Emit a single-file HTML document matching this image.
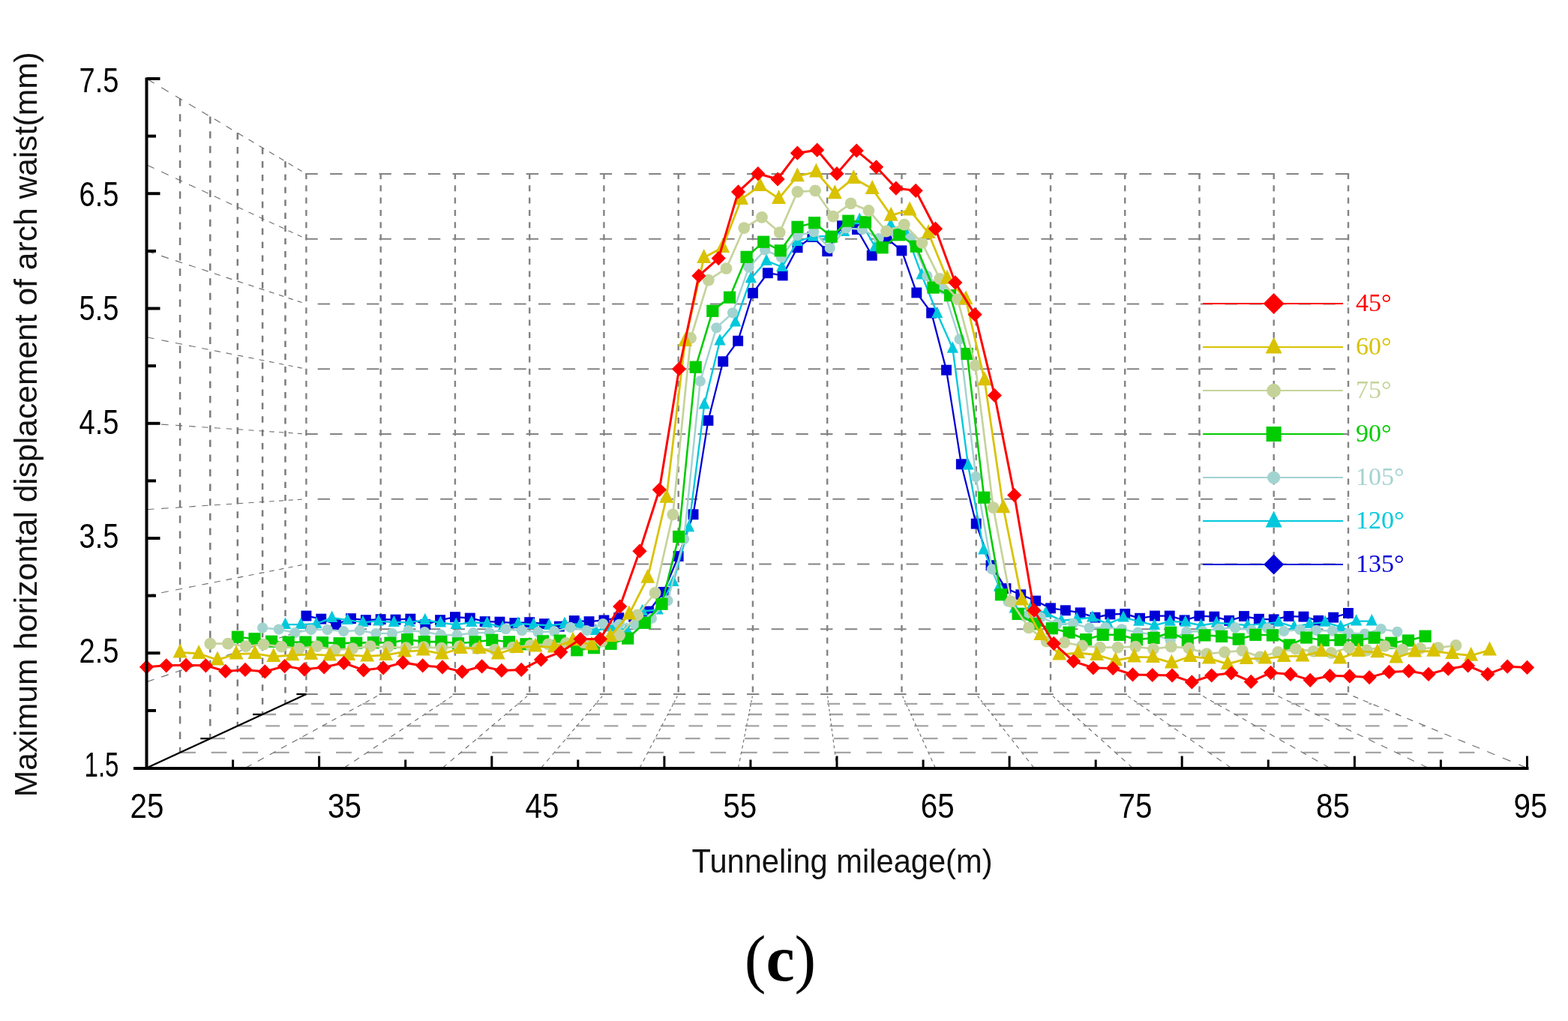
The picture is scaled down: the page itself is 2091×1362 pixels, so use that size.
<!DOCTYPE html>
<html><head><meta charset="utf-8"><style>
html,body{margin:0;padding:0;background:#fff;}
svg{display:block;}
.tk{font-family:"Liberation Sans",sans-serif;font-size:45.5px;fill:#000;}
.ttl{font-family:"Liberation Sans",sans-serif;font-size:45px;fill:#111;}
.lg{font-family:"Liberation Serif",serif;font-size:34px;}
.ttly{font-family:"Liberation Sans",sans-serif;font-size:43px;fill:#111;}
.cap{font-family:"Liberation Serif",serif;font-size:86px;font-weight:bold;fill:#000;}
</style></head><body>
<svg width="2091" height="1362" viewBox="0 0 2091 1362">
<rect width="2091" height="1362" fill="#fff"/>
<g stroke="#838383" stroke-width="2" fill="none"><line x1="408.4" y1="231" x2="408.4" y2="926" stroke-dasharray="8 8.3" stroke-width="2.4"/><line x1="507.7" y1="231" x2="507.7" y2="926" stroke-dasharray="8 8.3" stroke-width="2.4"/><line x1="606.9" y1="231" x2="606.9" y2="926" stroke-dasharray="8 8.3" stroke-width="2.4"/><line x1="706.2" y1="231" x2="706.2" y2="926" stroke-dasharray="8 8.3" stroke-width="2.4"/><line x1="805.4" y1="231" x2="805.4" y2="926" stroke-dasharray="8 8.3" stroke-width="2.4"/><line x1="904.7" y1="231" x2="904.7" y2="926" stroke-dasharray="8 8.3" stroke-width="2.4"/><line x1="1003.9" y1="231" x2="1003.9" y2="926" stroke-dasharray="8 8.3" stroke-width="2.4"/><line x1="1103.2" y1="231" x2="1103.2" y2="926" stroke-dasharray="8 8.3" stroke-width="2.4"/><line x1="1202.5" y1="231" x2="1202.5" y2="926" stroke-dasharray="8 8.3" stroke-width="2.4"/><line x1="1301.7" y1="231" x2="1301.7" y2="926" stroke-dasharray="8 8.3" stroke-width="2.4"/><line x1="1401" y1="231" x2="1401" y2="926" stroke-dasharray="8 8.3" stroke-width="2.4"/><line x1="1500.2" y1="231" x2="1500.2" y2="926" stroke-dasharray="8 8.3" stroke-width="2.4"/><line x1="1599.5" y1="231" x2="1599.5" y2="926" stroke-dasharray="8 8.3" stroke-width="2.4"/><line x1="1698.7" y1="231" x2="1698.7" y2="926" stroke-dasharray="8 8.3" stroke-width="2.4"/><line x1="1798" y1="231" x2="1798" y2="926" stroke-dasharray="8 8.3" stroke-width="2.4"/><line x1="407.4" y1="232" x2="1798" y2="232" stroke-dasharray="16.35 16.35" stroke-dashoffset="0"/><line x1="407.4" y1="318.7" x2="1798" y2="318.7" stroke-dasharray="16.35 16.35" stroke-dashoffset="0"/><line x1="407.4" y1="405.5" x2="1798" y2="405.5" stroke-dasharray="16.35 16.35" stroke-dashoffset="16.4"/><line x1="407.4" y1="492.2" x2="1798" y2="492.2" stroke-dasharray="16.35 16.35" stroke-dashoffset="16.4"/><line x1="407.4" y1="579" x2="1798" y2="579" stroke-dasharray="16.35 16.35" stroke-dashoffset="0"/><line x1="407.4" y1="665.7" x2="1798" y2="665.7" stroke-dasharray="16.35 16.35" stroke-dashoffset="16.4"/><line x1="407.4" y1="752.5" x2="1798" y2="752.5" stroke-dasharray="16.35 16.35" stroke-dashoffset="16.4"/><line x1="407.4" y1="839.2" x2="1798" y2="839.2" stroke-dasharray="16.35 16.35" stroke-dashoffset="0"/><line x1="407.4" y1="926" x2="1798" y2="926" stroke-dasharray="16.35 16.35" stroke-dashoffset="0"/></g>
<g stroke="#a4a4a4" stroke-width="2.3" fill="none"><line x1="240.1" y1="1003.9" x2="1986.5" y2="1003.9" stroke-dasharray="20.8 20.8"/><line x1="280.3" y1="985.2" x2="1941.5" y2="985.2" stroke-dasharray="19.8 19.8"/><line x1="316.8" y1="968.3" x2="1900.6" y2="968.3" stroke-dasharray="18.8 18.8"/><line x1="350.1" y1="953" x2="1863.3" y2="953" stroke-dasharray="18 18"/><line x1="380.5" y1="938.9" x2="1829.3" y2="938.9" stroke-dasharray="17.2 17.2"/></g>
<g stroke="#7c7c7c" stroke-width="2.5" fill="none"><line x1="240.1" y1="131.6" x2="240.1" y2="1003.9" stroke-dasharray="9.9 10.7"/><line x1="280.3" y1="155.6" x2="280.3" y2="985.2" stroke-dasharray="9.4 10.2"/><line x1="316.8" y1="177.3" x2="316.8" y2="968.3" stroke-dasharray="9 9.7"/><line x1="350.1" y1="197.2" x2="350.1" y2="953" stroke-dasharray="8.6 9.3"/><line x1="380.5" y1="215.3" x2="380.5" y2="938.9" stroke-dasharray="8.2 8.9"/></g>
<path d="M195.5 105L205.5 110.9M215.2 116.7L224.7 122.4M234 128L243.1 133.4M252 138.7L260.7 143.9M269.3 149L277.6 154M285.8 158.8L293.8 163.6M301.6 168.3L309.3 172.9M316.8 177.3L324.2 181.7M331.5 186.1L338.6 190.3M345.5 194.4L352.4 198.5M359.1 202.5L365.6 206.4M372.1 210.3L378.4 214.1M384.6 217.8L390.7 221.4M396.7 225L402.6 228.5M195.5 219.9L205.5 224.6M215.2 229.1L224.7 233.5M234 237.8L243.1 242M252 246.2L260.7 250.2M269.3 254.1L277.6 258M285.8 261.8L293.8 265.5M301.6 269.2L309.3 272.7M316.8 276.2L324.2 279.6M331.5 283L338.6 286.3M345.5 289.5L352.4 292.7M359.1 295.8L365.6 298.9M372.1 301.8L378.4 304.8M384.6 307.7L390.7 310.5M396.7 313.3L402.6 316M195.5 334.9L205.5 338.2M215.2 341.4L224.7 344.6M234 347.6L243.1 350.7M252 353.6L260.7 356.5M269.3 359.3L277.6 362.1M285.8 364.8L293.8 367.5M301.6 370.1L309.3 372.6M316.8 375.1L324.2 377.5M331.5 379.9L338.6 382.3M345.5 384.6L352.4 386.9M359.1 389.1L365.6 391.3M372.1 393.4L378.4 395.5M384.6 397.6L390.7 399.6M396.7 401.6L402.6 403.5M195.5 449.8L205.5 451.8M215.2 453.7L224.7 455.6M234 457.5L243.1 459.3M252 461.1L260.7 462.8M269.3 464.5L277.6 466.2M285.8 467.8L293.8 469.4M301.6 470.9L309.3 472.5M316.8 474L324.2 475.4M331.5 476.9L338.6 478.3M345.5 479.7L352.4 481M359.1 482.4L365.6 483.7M372.1 485L378.4 486.2M384.6 487.5L390.7 488.7M396.7 489.9L402.6 491.1M195.5 564.8L205.5 565.4M215.2 566.1L224.7 566.7M234 567.3L243.1 567.9M252 568.5L260.7 569.1M269.3 569.7L277.6 570.2M285.8 570.8L293.8 571.3M301.6 571.8L309.3 572.3M316.8 572.8L324.2 573.3M331.5 573.8L338.6 574.3M345.5 574.8L352.4 575.2M359.1 575.7L365.6 576.1M372.1 576.5L378.4 577M384.6 577.4L390.7 577.8M396.7 578.2L402.6 578.6M195.5 679.7L205.5 679M215.2 678.4L224.7 677.8M234 677.2L243.1 676.6M252 676L260.7 675.4M269.3 674.8L277.6 674.3M285.8 673.8L293.8 673.2M301.6 672.7L309.3 672.2M316.8 671.7L324.2 671.2M331.5 670.8L338.6 670.3M345.5 669.8L352.4 669.4M359.1 669L365.6 668.5M372.1 668.1L378.4 667.7M384.6 667.3L390.7 666.9M396.7 666.5L402.6 666.1M195.5 794.6L205.5 792.7M215.2 790.7L224.7 788.8M234 787L243.1 785.2M252 783.4L260.7 781.7M269.3 780L277.6 778.4M285.8 776.7L293.8 775.2M301.6 773.6L309.3 772.1M316.8 770.6L324.2 769.1M331.5 767.7L338.6 766.3M345.5 764.9L352.4 763.6M359.1 762.2L365.6 760.9M372.1 759.7L378.4 758.4M384.6 757.2L390.7 756M396.7 754.8L402.6 753.6M195.5 909.6L205.5 906.3M215.2 903.1L224.7 899.9M234 896.8L243.1 893.8M252 890.9L260.7 888M269.3 885.2L277.6 882.4M285.8 879.7L293.8 877.1M301.6 874.5L309.3 872M316.8 869.5L324.2 867M331.5 864.6L338.6 862.3M345.5 860L352.4 857.7M359.1 855.5L365.6 853.4M372.1 851.2L378.4 849.1M384.6 847.1L390.7 845.1M396.7 843.1L402.6 841.1" stroke="#6e6e6e" stroke-width="1.15" fill="none"/>
<path d="M327 1024.5L335.5 1019.9M343.7 1015.4L351.8 1011M359.7 1006.7L367.4 1002.5M375 998.3L382.4 994.3M389.6 990.4L396.7 986.5M403.6 982.7L410.4 979M417.1 975.4L423.6 971.8M430 968.3L436.2 964.9M442.4 961.6L448.4 958.3M454.3 955.1L460.1 951.9M465.8 948.8L471.4 945.8M476.8 942.8L482.2 939.9M487.5 937L492.7 934.2M497.8 931.4L502.8 928.6M458.5 1024.5L465.4 1019.9M472.2 1015.4L478.9 1011M485.3 1006.7L491.7 1002.5M497.9 998.3L504 994.3M509.9 990.4L515.7 986.5M521.4 982.7L527 979M532.5 975.4L537.8 971.8M543.1 968.3L548.2 964.9M553.3 961.6L558.2 958.3M563.1 955.1L567.8 951.9M572.5 948.8L577.1 945.8M581.6 942.8L586 939.9M590.3 937L594.6 934.2M598.8 931.4L602.9 928.6M590 1024.5L595.4 1019.9M600.7 1015.4L605.9 1011M611 1006.7L616 1002.5M620.8 998.3L625.6 994.3M630.2 990.4L634.8 986.5M639.3 982.7L643.6 979M647.9 975.4L652.1 971.8M656.2 968.3L660.2 964.9M664.2 961.6L668.1 958.3M671.9 955.1L675.6 951.9M679.2 948.8L682.8 945.8M686.4 942.8L689.8 939.9M693.2 937L696.5 934.2M699.8 931.4L703 928.6M721.5 1024.5L725.4 1019.9M729.3 1015.4L733 1011M736.7 1006.7L740.3 1002.5M743.8 998.3L747.2 994.3M750.6 990.4L753.9 986.5M757.1 982.7L760.2 979M763.3 975.4L766.4 971.8M769.3 968.3L772.2 964.9M775.1 961.6L777.9 958.3M780.6 955.1L783.3 951.9M786 948.8L788.6 945.8M791.1 942.8L793.6 939.9M796.1 937L798.5 934.2M800.8 931.4L803.2 928.6M853 1024.5L855.4 1019.9M857.8 1015.4L860.1 1011M862.4 1006.7L864.6 1002.5M866.7 998.3L868.8 994.3M870.9 990.4L872.9 986.5M874.9 982.7L876.9 979M878.8 975.4L880.6 971.8M882.5 968.3L884.3 964.9M886 961.6L887.7 958.3M889.4 955.1L891.1 951.9M892.7 948.8L894.3 945.8M895.9 942.8L897.4 939.9M898.9 937L900.4 934.2M901.9 931.4L903.3 928.6M984.5 1024.5L985.4 1019.9M986.3 1015.4L987.2 1011M988 1006.7L988.8 1002.5M989.7 998.3L990.5 994.3M991.2 990.4L992 986.5M992.7 982.7L993.5 979M994.2 975.4L994.9 971.8M995.6 968.3L996.3 964.9M996.9 961.6L997.6 958.3M998.2 955.1L998.8 951.9M999.4 948.8L1000 945.8M1000.6 942.8L1001.2 939.9M1001.8 937L1002.3 934.2M1002.9 931.4L1003.4 928.6M1116 1024.5L1115.4 1019.9M1114.8 1015.4L1114.2 1011M1113.7 1006.7L1113.1 1002.5M1112.6 998.3L1112.1 994.3M1111.6 990.4L1111.1 986.5M1110.6 982.7L1110.1 979M1109.6 975.4L1109.2 971.8M1108.7 968.3L1108.3 964.9M1107.8 961.6L1107.4 958.3M1107 955.1L1106.6 951.9M1106.2 948.8L1105.8 945.8M1105.4 942.8L1105 939.9M1104.6 937L1104.3 934.2M1103.9 931.4L1103.5 928.6M1247.5 1024.5L1245.4 1019.9M1243.3 1015.4L1241.3 1011M1239.4 1006.7L1237.4 1002.5M1235.5 998.3L1233.7 994.3M1231.9 990.4L1230.1 986.5M1228.4 982.7L1226.7 979M1225 975.4L1223.4 971.8M1221.8 968.3L1220.3 964.9M1218.7 961.6L1217.2 958.3M1215.8 955.1L1214.3 951.9M1212.9 948.8L1211.5 945.8M1210.1 942.8L1208.8 939.9M1207.5 937L1206.2 934.2M1204.9 931.4L1203.7 928.6M1379 1024.5L1375.4 1019.9M1371.9 1015.4L1368.4 1011M1365 1006.7L1361.7 1002.5M1358.5 998.3L1355.3 994.3M1352.2 990.4L1349.2 986.5M1346.2 982.7L1343.3 979M1340.5 975.4L1337.7 971.8M1335 968.3L1332.3 964.9M1329.6 961.6L1327.1 958.3M1324.5 955.1L1322.1 951.9M1319.6 948.8L1317.2 945.8M1314.9 942.8L1312.6 939.9M1310.3 937L1308.1 934.2M1305.9 931.4L1303.8 928.6M1510.5 1024.5L1505.4 1019.9M1500.4 1015.4L1495.5 1011M1490.7 1006.7L1486 1002.5M1481.4 998.3L1476.9 994.3M1472.6 990.4L1468.3 986.5M1464.1 982.7L1459.9 979M1455.9 975.4L1451.9 971.8M1448.1 968.3L1444.3 964.9M1440.6 961.6L1436.9 958.3M1433.3 955.1L1429.8 951.9M1426.4 948.8L1423 945.8M1419.7 942.8L1416.4 939.9M1413.2 937L1410.1 934.2M1407 931.4L1403.9 928.6M1642 1024.5L1635.4 1019.9M1628.9 1015.4L1622.5 1011M1616.4 1006.7L1610.3 1002.5M1604.4 998.3L1598.6 994.3M1592.9 990.4L1587.3 986.5M1581.9 982.7L1576.6 979M1571.3 975.4L1566.2 971.8M1561.2 968.3L1556.3 964.9M1551.5 961.6L1546.7 958.3M1542.1 955.1L1537.6 951.9M1533.1 948.8L1528.7 945.8M1524.4 942.8L1520.2 939.9M1516.1 937L1512 934.2M1508 931.4L1504.1 928.6M1773.5 1024.5L1765.4 1019.9M1757.4 1015.4L1749.6 1011M1742 1006.7L1734.6 1002.5M1727.3 998.3L1720.2 994.3M1713.2 990.4L1706.4 986.5M1699.7 982.7L1693.2 979M1686.8 975.4L1680.5 971.8M1674.3 968.3L1668.3 964.9M1662.4 961.6L1656.6 958.3M1650.9 955.1L1645.3 951.9M1639.8 948.8L1634.4 945.8M1629.2 942.8L1624 939.9M1618.9 937L1613.9 934.2M1609 931.4L1604.2 928.6M1905 1024.5L1895.4 1019.9M1885.9 1015.4L1876.7 1011M1867.7 1006.7L1858.9 1002.5M1850.2 998.3L1841.8 994.3M1833.5 990.4L1825.5 986.5M1817.5 982.7L1809.8 979M1802.2 975.4L1794.7 971.8M1787.4 968.3L1780.3 964.9M1773.3 961.6L1766.4 958.3M1759.7 955.1L1753 951.9M1746.6 948.8L1740.2 945.8M1733.9 942.8L1727.8 939.9M1721.8 937L1715.8 934.2M1710 931.4L1704.3 928.6M2036.5 1024.5L2025.3 1019.9M2014.4 1015.4L2003.8 1011M1993.4 1006.7L1983.2 1002.5M1973.2 998.3L1963.4 994.3M1953.9 990.4L1944.5 986.5M1935.4 982.7L1926.4 979M1917.6 975.4L1909 971.8M1900.6 968.3L1892.3 964.9M1884.2 961.6L1876.2 958.3M1868.4 955.1L1860.8 951.9M1853.3 948.8L1845.9 945.8M1838.7 942.8L1831.6 939.9M1824.6 937L1817.8 934.2M1811.1 931.4L1804.5 928.6" stroke="#6e6e6e" stroke-width="1.15" fill="none"/>
<polyline points="408.4,821.6 428.3,825.6 448.1,833.1 468,825.1 487.8,827.1 507.7,826.1 527.5,826.6 547.4,825.6 567.2,833.1 587.1,827.1 606.9,823.1 626.8,824.5 646.6,829.2 666.5,829.7 686.3,831.2 706.2,830.2 726,832.2 745.9,835.6 765.7,828 785.6,829.1 805.4,827.4 825.3,824.2 845.1,822.8 865,815.6 884.8,789.8 904.7,742 924.5,686.3 944.4,560.9 964.2,482.2 984.1,454.7 1003.9,391 1023.8,364.2 1043.6,367.4 1063.5,330.3 1083.3,316 1103.2,335.1 1123,301.2 1142.9,306 1162.8,340.8 1182.6,318.1 1202.5,334.3 1222.3,390.4 1242.2,417.6 1262,493.6 1281.9,619.3 1301.7,698.7 1321.6,754.2 1341.4,785 1361.3,793.2 1381.1,801.5 1401,811.4 1420.8,814.2 1440.7,817.4 1460.5,823.7 1480.4,819.5 1500.2,818.9 1520.1,824.7 1539.9,821.6 1559.8,821.6 1579.6,827.3 1599.5,821.6 1619.3,822.6 1639.2,827.9 1659,822.1 1678.9,825.8 1698.7,826.3 1718.6,822.1 1738.4,822.6 1758.3,827.9 1778.1,823.7 1798,818" stroke="#0000d6" stroke-width="2.3" fill="none"/>
<g fill="#0000d6"><rect x="401.5" y="814.6" width="13.9" height="13.9"/><rect x="421.3" y="818.7" width="13.9" height="13.9"/><rect x="441.2" y="826.2" width="13.9" height="13.9"/><rect x="461" y="818.2" width="13.9" height="13.9"/><rect x="480.9" y="820.2" width="13.9" height="13.9"/><rect x="500.7" y="819.2" width="13.9" height="13.9"/><rect x="520.6" y="819.7" width="13.9" height="13.9"/><rect x="540.4" y="818.7" width="13.9" height="13.9"/><rect x="560.3" y="826.2" width="13.9" height="13.9"/><rect x="580.1" y="820.2" width="13.9" height="13.9"/><rect x="600" y="816.2" width="13.9" height="13.9"/><rect x="619.8" y="817.6" width="13.9" height="13.9"/><rect x="639.7" y="822.2" width="13.9" height="13.9"/><rect x="659.5" y="822.7" width="13.9" height="13.9"/><rect x="679.4" y="824.2" width="13.9" height="13.9"/><rect x="699.2" y="823.2" width="13.9" height="13.9"/><rect x="719.1" y="825.2" width="13.9" height="13.9"/><rect x="738.9" y="828.7" width="13.9" height="13.9"/><rect x="758.8" y="821.1" width="13.9" height="13.9"/><rect x="778.6" y="822.2" width="13.9" height="13.9"/><rect x="798.5" y="820.5" width="13.9" height="13.9"/><rect x="818.3" y="817.2" width="13.9" height="13.9"/><rect x="838.2" y="815.9" width="13.9" height="13.9"/><rect x="858" y="808.6" width="13.9" height="13.9"/><rect x="877.9" y="782.9" width="13.9" height="13.9"/><rect x="897.7" y="735.1" width="13.9" height="13.9"/><rect x="917.6" y="679.3" width="13.9" height="13.9"/><rect x="937.5" y="554" width="13.9" height="13.9"/><rect x="957.3" y="475.3" width="13.9" height="13.9"/><rect x="977.2" y="447.8" width="13.9" height="13.9"/><rect x="997" y="384" width="13.9" height="13.9"/><rect x="1016.9" y="357.3" width="13.9" height="13.9"/><rect x="1036.7" y="360.5" width="13.9" height="13.9"/><rect x="1056.6" y="323.3" width="13.9" height="13.9"/><rect x="1076.4" y="309.1" width="13.9" height="13.9"/><rect x="1096.3" y="328.2" width="13.9" height="13.9"/><rect x="1116.1" y="294.2" width="13.9" height="13.9"/><rect x="1136" y="299.1" width="13.9" height="13.9"/><rect x="1155.8" y="333.8" width="13.9" height="13.9"/><rect x="1175.7" y="311.2" width="13.9" height="13.9"/><rect x="1195.5" y="327.4" width="13.9" height="13.9"/><rect x="1215.4" y="383.5" width="13.9" height="13.9"/><rect x="1235.2" y="410.6" width="13.9" height="13.9"/><rect x="1255.1" y="486.7" width="13.9" height="13.9"/><rect x="1274.9" y="612.3" width="13.9" height="13.9"/><rect x="1294.8" y="691.7" width="13.9" height="13.9"/><rect x="1314.6" y="747.2" width="13.9" height="13.9"/><rect x="1334.5" y="778.1" width="13.9" height="13.9"/><rect x="1354.3" y="786.3" width="13.9" height="13.9"/><rect x="1374.2" y="794.6" width="13.9" height="13.9"/><rect x="1394" y="804.4" width="13.9" height="13.9"/><rect x="1413.9" y="807.3" width="13.9" height="13.9"/><rect x="1433.7" y="810.4" width="13.9" height="13.9"/><rect x="1453.6" y="816.7" width="13.9" height="13.9"/><rect x="1473.4" y="812.5" width="13.9" height="13.9"/><rect x="1493.3" y="812" width="13.9" height="13.9"/><rect x="1513.1" y="817.8" width="13.9" height="13.9"/><rect x="1533" y="814.6" width="13.9" height="13.9"/><rect x="1552.8" y="814.6" width="13.9" height="13.9"/><rect x="1572.7" y="820.4" width="13.9" height="13.9"/><rect x="1592.5" y="814.6" width="13.9" height="13.9"/><rect x="1612.4" y="815.7" width="13.9" height="13.9"/><rect x="1632.2" y="820.9" width="13.9" height="13.9"/><rect x="1652.1" y="815.1" width="13.9" height="13.9"/><rect x="1671.9" y="818.8" width="13.9" height="13.9"/><rect x="1691.8" y="819.4" width="13.9" height="13.9"/><rect x="1711.6" y="815.1" width="13.9" height="13.9"/><rect x="1731.5" y="815.7" width="13.9" height="13.9"/><rect x="1751.3" y="820.9" width="13.9" height="13.9"/><rect x="1771.2" y="816.7" width="13.9" height="13.9"/><rect x="1791" y="811" width="13.9" height="13.9"/></g>
<polyline points="380.5,833.1 401.2,833.1 421.9,832.1 442.6,824.1 463.3,827.1 484,830.1 504.7,828.6 525.4,830.1 546.1,830.1 566.8,827.1 587.5,830.7 608.2,833.2 628.9,830.2 649.6,831.2 670.3,837.2 690.9,831.7 711.6,833.2 732.3,834.2 753,832.1 773.7,832.9 794.4,841.2 815.1,836.6 835.8,839.7 856.5,815.2 877.2,813.7 897.9,776.2 918.6,703.3 939.3,539.6 960,454.7 980.7,429.8 1001.4,371.5 1022.1,348 1042.8,356.1 1063.5,322.2 1084.2,315.7 1104.9,314.9 1125.6,309.3 1146.3,293.1 1167,329.3 1187.7,300.2 1208.4,310.9 1229.1,366.8 1249.8,418.2 1270.4,464.8 1291.1,620.8 1311.8,733.6 1332.5,782.9 1353.2,811.7 1373.9,812.2 1394.6,817.6 1415.3,827.9 1436,825.8 1456.7,823.7 1477.4,832.1 1498.1,823.7 1518.8,828.9 1539.5,834.2 1560.2,828.9 1580.9,830 1601.6,834.2 1622.3,831 1643,832.1 1663.7,834.2 1684.4,832.1 1705.1,830 1725.8,836.3 1746.5,832.1 1767.2,830 1787.9,836.3 1808.6,828.6 1829.3,828.6" stroke="#00c8dc" stroke-width="2.4" fill="none"/>
<g fill="#00c8dc"><path d="M380.5 823.6l7.6 15.3h-15.3z"/><path d="M401.2 823.7l7.6 15.3h-15.3z"/><path d="M421.9 822.7l7.6 15.3h-15.3z"/><path d="M442.6 814.6l7.6 15.3h-15.3z"/><path d="M463.3 817.7l7.6 15.3h-15.3z"/><path d="M484 820.7l7.6 15.3h-15.3z"/><path d="M504.7 819.2l7.6 15.3h-15.3z"/><path d="M525.4 820.7l7.6 15.3h-15.3z"/><path d="M546.1 820.7l7.6 15.3h-15.3z"/><path d="M566.8 817.7l7.6 15.3h-15.3z"/><path d="M587.5 821.2l7.6 15.3h-15.3z"/><path d="M608.2 823.7l7.6 15.3h-15.3z"/><path d="M628.9 820.7l7.6 15.3h-15.3z"/><path d="M649.6 821.7l7.6 15.3h-15.3z"/><path d="M670.3 827.7l7.6 15.3h-15.3z"/><path d="M690.9 822.2l7.6 15.3h-15.3z"/><path d="M711.6 823.7l7.6 15.3h-15.3z"/><path d="M732.3 824.7l7.6 15.3h-15.3z"/><path d="M753 822.6l7.6 15.3h-15.3z"/><path d="M773.7 823.4l7.6 15.3h-15.3z"/><path d="M794.4 831.7l7.6 15.3h-15.3z"/><path d="M815.1 827.2l7.6 15.3h-15.3z"/><path d="M835.8 830.2l7.6 15.3h-15.3z"/><path d="M856.5 805.7l7.6 15.3h-15.3z"/><path d="M877.2 804.2l7.6 15.3h-15.3z"/><path d="M897.9 766.7l7.6 15.3h-15.3z"/><path d="M918.6 693.9l7.6 15.3h-15.3z"/><path d="M939.3 530.1l7.6 15.3h-15.3z"/><path d="M960 445.3l7.6 15.3h-15.3z"/><path d="M980.7 420.3l7.6 15.3h-15.3z"/><path d="M1001.4 362l7.6 15.3h-15.3z"/><path d="M1022.1 338.6l7.6 15.3h-15.3z"/><path d="M1042.8 346.7l7.6 15.3h-15.3z"/><path d="M1063.5 312.7l7.6 15.3h-15.3z"/><path d="M1084.2 306.3l7.6 15.3h-15.3z"/><path d="M1104.9 305.4l7.6 15.3h-15.3z"/><path d="M1125.6 299.8l7.6 15.3h-15.3z"/><path d="M1146.3 283.6l7.6 15.3h-15.3z"/><path d="M1167 319.9l7.6 15.3h-15.3z"/><path d="M1187.7 290.7l7.6 15.3h-15.3z"/><path d="M1208.4 301.4l7.6 15.3h-15.3z"/><path d="M1229.1 357.3l7.6 15.3h-15.3z"/><path d="M1249.8 408.8l7.6 15.3h-15.3z"/><path d="M1270.4 455.4l7.6 15.3h-15.3z"/><path d="M1291.1 611.3l7.6 15.3h-15.3z"/><path d="M1311.8 724.1l7.6 15.3h-15.3z"/><path d="M1332.5 773.5l7.6 15.3h-15.3z"/><path d="M1353.2 802.3l7.6 15.3h-15.3z"/><path d="M1373.9 802.8l7.6 15.3h-15.3z"/><path d="M1394.6 808.2l7.6 15.3h-15.3z"/><path d="M1415.3 818.4l7.6 15.3h-15.3z"/><path d="M1436 816.3l7.6 15.3h-15.3z"/><path d="M1456.7 814.2l7.6 15.3h-15.3z"/><path d="M1477.4 822.6l7.6 15.3h-15.3z"/><path d="M1498.1 814.2l7.6 15.3h-15.3z"/><path d="M1518.8 819.5l7.6 15.3h-15.3z"/><path d="M1539.5 824.7l7.6 15.3h-15.3z"/><path d="M1560.2 819.5l7.6 15.3h-15.3z"/><path d="M1580.9 820.5l7.6 15.3h-15.3z"/><path d="M1601.6 824.7l7.6 15.3h-15.3z"/><path d="M1622.3 821.6l7.6 15.3h-15.3z"/><path d="M1643 822.6l7.6 15.3h-15.3z"/><path d="M1663.7 824.7l7.6 15.3h-15.3z"/><path d="M1684.4 822.6l7.6 15.3h-15.3z"/><path d="M1705.1 820.5l7.6 15.3h-15.3z"/><path d="M1725.8 826.8l7.6 15.3h-15.3z"/><path d="M1746.5 822.6l7.6 15.3h-15.3z"/><path d="M1767.2 820.5l7.6 15.3h-15.3z"/><path d="M1787.9 826.8l7.6 15.3h-15.3z"/><path d="M1808.6 819.2l7.6 15.3h-15.3z"/><path d="M1829.3 819.1l7.6 15.3h-15.3z"/></g>
<polyline points="350.1,837.6 371.7,839.6 393.3,844.1 414.9,840.1 436.6,840.1 458.2,842.1 479.8,841.1 501.4,845.1 523,845.1 544.6,841.1 566.3,843.1 587.9,846.7 609.5,847.2 631.1,844.2 652.7,844 674.4,839.2 696,841.2 717.6,843.2 739.2,842.2 760.8,836.9 782.4,841 804.1,832 825.7,832.8 847.3,833.3 868.9,824.9 890.5,801.2 912.1,719.3 933.8,508.4 955.4,437.3 977,417.3 998.6,356.8 1020.2,333.5 1041.9,343.2 1063.5,314.1 1085.1,309.3 1106.7,331.1 1128.3,304.4 1149.9,306 1171.6,318 1193.2,310 1214.8,317.3 1236.4,368.1 1258,385.7 1279.6,452.5 1301.3,636 1322.9,759.3 1344.5,802.5 1366.1,822 1387.7,823.5 1409.4,832.3 1431,831.8 1452.6,837.6 1474.2,837 1495.8,839.3 1517.4,843.7 1539.1,846.5 1560.7,854.2 1582.3,842.7 1603.9,842.1 1625.5,838.8 1647.1,837.2 1668.8,840.6 1690.4,838 1712,841.9 1733.6,839.9 1755.2,840.8 1776.9,841.7 1798.5,844.6 1820.1,845.5 1841.7,839 1863.3,842.8" stroke="#a3d3d0" stroke-width="2.5" fill="none"/>
<g fill="#a3d3d0"><circle cx="350.1" cy="837.6" r="7.1"/><circle cx="371.7" cy="839.6" r="7.1"/><circle cx="393.3" cy="844.1" r="7.1"/><circle cx="414.9" cy="840.1" r="7.1"/><circle cx="436.6" cy="840.1" r="7.1"/><circle cx="458.2" cy="842.1" r="7.1"/><circle cx="479.8" cy="841.1" r="7.1"/><circle cx="501.4" cy="845.1" r="7.1"/><circle cx="523" cy="845.1" r="7.1"/><circle cx="544.6" cy="841.1" r="7.1"/><circle cx="566.3" cy="843.1" r="7.1"/><circle cx="587.9" cy="846.7" r="7.1"/><circle cx="609.5" cy="847.2" r="7.1"/><circle cx="631.1" cy="844.2" r="7.1"/><circle cx="652.7" cy="844" r="7.1"/><circle cx="674.4" cy="839.2" r="7.1"/><circle cx="696" cy="841.2" r="7.1"/><circle cx="717.6" cy="843.2" r="7.1"/><circle cx="739.2" cy="842.2" r="7.1"/><circle cx="760.8" cy="836.9" r="7.1"/><circle cx="782.4" cy="841" r="7.1"/><circle cx="804.1" cy="832" r="7.1"/><circle cx="825.7" cy="832.8" r="7.1"/><circle cx="847.3" cy="833.3" r="7.1"/><circle cx="868.9" cy="824.9" r="7.1"/><circle cx="890.5" cy="801.2" r="7.1"/><circle cx="912.1" cy="719.3" r="7.1"/><circle cx="933.8" cy="508.4" r="7.1"/><circle cx="955.4" cy="437.3" r="7.1"/><circle cx="977" cy="417.3" r="7.1"/><circle cx="998.6" cy="356.8" r="7.1"/><circle cx="1020.2" cy="333.5" r="7.1"/><circle cx="1041.9" cy="343.2" r="7.1"/><circle cx="1063.5" cy="314.1" r="7.1"/><circle cx="1085.1" cy="309.3" r="7.1"/><circle cx="1106.7" cy="331.1" r="7.1"/><circle cx="1128.3" cy="304.4" r="7.1"/><circle cx="1149.9" cy="306" r="7.1"/><circle cx="1171.6" cy="318" r="7.1"/><circle cx="1193.2" cy="310" r="7.1"/><circle cx="1214.8" cy="317.3" r="7.1"/><circle cx="1236.4" cy="368.1" r="7.1"/><circle cx="1258" cy="385.7" r="7.1"/><circle cx="1279.6" cy="452.5" r="7.1"/><circle cx="1301.3" cy="636" r="7.1"/><circle cx="1322.9" cy="759.3" r="7.1"/><circle cx="1344.5" cy="802.5" r="7.1"/><circle cx="1366.1" cy="822" r="7.1"/><circle cx="1387.7" cy="823.5" r="7.1"/><circle cx="1409.4" cy="832.3" r="7.1"/><circle cx="1431" cy="831.8" r="7.1"/><circle cx="1452.6" cy="837.6" r="7.1"/><circle cx="1474.2" cy="837" r="7.1"/><circle cx="1495.8" cy="839.3" r="7.1"/><circle cx="1517.4" cy="843.7" r="7.1"/><circle cx="1539.1" cy="846.5" r="7.1"/><circle cx="1560.7" cy="854.2" r="7.1"/><circle cx="1582.3" cy="842.7" r="7.1"/><circle cx="1603.9" cy="842.1" r="7.1"/><circle cx="1625.5" cy="838.8" r="7.1"/><circle cx="1647.1" cy="837.2" r="7.1"/><circle cx="1668.8" cy="840.6" r="7.1"/><circle cx="1690.4" cy="838" r="7.1"/><circle cx="1712" cy="841.9" r="7.1"/><circle cx="1733.6" cy="839.9" r="7.1"/><circle cx="1755.2" cy="840.8" r="7.1"/><circle cx="1776.9" cy="841.7" r="7.1"/><circle cx="1798.5" cy="844.6" r="7.1"/><circle cx="1820.1" cy="845.5" r="7.1"/><circle cx="1841.7" cy="839" r="7.1"/><circle cx="1863.3" cy="842.8" r="7.1"/></g>
<polyline points="316.8,849.7 339.5,852.2 362.1,855.7 384.7,856.7 407.3,856.6 430,857.1 452.6,858.1 475.2,857.6 497.8,857.1 520.5,857.6 543.1,853.1 565.7,856.1 588.3,856 611,858.3 633.6,856.3 656.2,853.8 678.8,856.3 701.5,859.3 724.1,855.3 746.7,854.6 769.3,867.3 792,864.2 814.6,858.8 837.2,851.6 859.8,830.8 882.5,805.7 905.1,715.9 927.7,489.7 950.3,414.8 973,396.7 995.6,342.8 1018.2,322.7 1040.8,334.3 1063.5,302.8 1086.1,297.1 1108.7,315.7 1131.3,294.7 1154,296.3 1176.6,330.3 1199.2,313.3 1221.8,328.7 1244.5,383.6 1267.1,394.1 1289.7,472 1312.3,663.7 1335,793.2 1357.6,818.9 1380.2,832.2 1402.8,838.2 1425.4,843.7 1448.1,853.1 1470.7,846.8 1493.3,846.8 1515.9,853.1 1538.6,851 1561.2,843.7 1583.8,854.2 1606.4,847.3 1629.1,848.9 1651.7,852.6 1674.3,846.8 1696.9,847.3 1719.6,860.5 1742.2,850.5 1764.8,854.2 1787.4,853.7 1810.1,854.1 1832.7,850.7 1855.3,857.6 1877.9,854.5 1900.6,848.7" stroke="#00cc00" stroke-width="2.6" fill="none"/>
<g fill="#00cc00"><rect x="308.8" y="841.6" width="16.2" height="16.2"/><rect x="331.4" y="844.1" width="16.2" height="16.2"/><rect x="354" y="847.6" width="16.2" height="16.2"/><rect x="376.6" y="848.6" width="16.2" height="16.2"/><rect x="399.3" y="848.5" width="16.2" height="16.2"/><rect x="421.9" y="849.1" width="16.2" height="16.2"/><rect x="444.5" y="850.1" width="16.2" height="16.2"/><rect x="467.1" y="849.6" width="16.2" height="16.2"/><rect x="489.8" y="849.1" width="16.2" height="16.2"/><rect x="512.4" y="849.6" width="16.2" height="16.2"/><rect x="535" y="845" width="16.2" height="16.2"/><rect x="557.6" y="848" width="16.2" height="16.2"/><rect x="580.3" y="847.9" width="16.2" height="16.2"/><rect x="602.9" y="850.2" width="16.2" height="16.2"/><rect x="625.5" y="848.2" width="16.2" height="16.2"/><rect x="648.1" y="845.7" width="16.2" height="16.2"/><rect x="670.8" y="848.2" width="16.2" height="16.2"/><rect x="693.4" y="851.2" width="16.2" height="16.2"/><rect x="716" y="847.2" width="16.2" height="16.2"/><rect x="738.6" y="846.5" width="16.2" height="16.2"/><rect x="761.2" y="859.2" width="16.2" height="16.2"/><rect x="783.9" y="856.1" width="16.2" height="16.2"/><rect x="806.5" y="850.7" width="16.2" height="16.2"/><rect x="829.1" y="843.5" width="16.2" height="16.2"/><rect x="851.7" y="822.7" width="16.2" height="16.2"/><rect x="874.4" y="797.6" width="16.2" height="16.2"/><rect x="897" y="707.8" width="16.2" height="16.2"/><rect x="919.6" y="481.6" width="16.2" height="16.2"/><rect x="942.2" y="406.7" width="16.2" height="16.2"/><rect x="964.9" y="388.6" width="16.2" height="16.2"/><rect x="987.5" y="334.7" width="16.2" height="16.2"/><rect x="1010.1" y="314.6" width="16.2" height="16.2"/><rect x="1032.7" y="326.2" width="16.2" height="16.2"/><rect x="1055.4" y="294.7" width="16.2" height="16.2"/><rect x="1078" y="289.1" width="16.2" height="16.2"/><rect x="1100.6" y="307.6" width="16.2" height="16.2"/><rect x="1123.2" y="286.6" width="16.2" height="16.2"/><rect x="1145.9" y="288.2" width="16.2" height="16.2"/><rect x="1168.5" y="322.2" width="16.2" height="16.2"/><rect x="1191.1" y="305.2" width="16.2" height="16.2"/><rect x="1213.7" y="320.6" width="16.2" height="16.2"/><rect x="1236.4" y="375.5" width="16.2" height="16.2"/><rect x="1259" y="386" width="16.2" height="16.2"/><rect x="1281.6" y="463.9" width="16.2" height="16.2"/><rect x="1304.2" y="655.6" width="16.2" height="16.2"/><rect x="1326.9" y="785.1" width="16.2" height="16.2"/><rect x="1349.5" y="810.8" width="16.2" height="16.2"/><rect x="1372.1" y="824.1" width="16.2" height="16.2"/><rect x="1394.7" y="830.1" width="16.2" height="16.2"/><rect x="1417.4" y="835.6" width="16.2" height="16.2"/><rect x="1440" y="845" width="16.2" height="16.2"/><rect x="1462.6" y="838.7" width="16.2" height="16.2"/><rect x="1485.2" y="838.7" width="16.2" height="16.2"/><rect x="1507.9" y="845" width="16.2" height="16.2"/><rect x="1530.5" y="842.9" width="16.2" height="16.2"/><rect x="1553.1" y="835.6" width="16.2" height="16.2"/><rect x="1575.7" y="846.1" width="16.2" height="16.2"/><rect x="1598.4" y="839.3" width="16.2" height="16.2"/><rect x="1621" y="840.8" width="16.2" height="16.2"/><rect x="1643.6" y="844.5" width="16.2" height="16.2"/><rect x="1666.2" y="838.7" width="16.2" height="16.2"/><rect x="1688.9" y="839.3" width="16.2" height="16.2"/><rect x="1711.5" y="852.4" width="16.2" height="16.2"/><rect x="1734.1" y="842.4" width="16.2" height="16.2"/><rect x="1756.7" y="846.1" width="16.2" height="16.2"/><rect x="1779.4" y="845.6" width="16.2" height="16.2"/><rect x="1802" y="846" width="16.2" height="16.2"/><rect x="1824.6" y="842.6" width="16.2" height="16.2"/><rect x="1847.2" y="849.6" width="16.2" height="16.2"/><rect x="1869.9" y="846.4" width="16.2" height="16.2"/><rect x="1892.5" y="840.6" width="16.2" height="16.2"/></g>
<polyline points="280.3,858.7 304.1,858.7 327.8,862.2 351.5,859.7 375.3,862.7 399,865.2 422.7,862.2 446.5,867.2 470.2,865.2 493.9,862.2 517.6,863.2 541.4,864.2 565.1,863.2 588.8,864.7 612.6,862.3 636.3,865.1 660,866.6 683.8,863.7 707.5,860.8 731.2,859.3 754.9,858 778.7,857.3 802.4,855.7 826.1,847.3 849.9,820.5 873.6,790.9 897.3,686.3 921.1,451 944.8,373.6 968.5,358.2 992.2,304.1 1016,289.9 1039.7,310.1 1063.4,255.9 1087.2,254.3 1110.9,288.7 1134.6,271.3 1158.4,281 1182.1,308.5 1205.8,299.6 1229.5,323.8 1253.3,371.9 1277,399.1 1300.7,487.4 1324.5,677.1 1348.2,802.5 1371.9,837.4 1395.7,855.6 1419.4,857.1 1443.1,861.5 1466.8,863.6 1490.6,863.6 1514.3,862.6 1538,865.7 1561.8,862.6 1585.5,864.7 1609.2,872.1 1633,870 1656.7,867.9 1680.4,876.3 1704.2,870 1727.9,865.7 1751.6,868.9 1775.3,871 1799.1,863.9 1822.8,867.5 1846.5,861.8 1870.3,866.7 1894,865 1917.7,864.2 1941.5,861" stroke="#c5d39a" stroke-width="2.7" fill="none"/>
<g fill="#c5d39a"><circle cx="280.3" cy="858.7" r="7.9"/><circle cx="304.1" cy="858.7" r="7.9"/><circle cx="327.8" cy="862.2" r="7.9"/><circle cx="351.5" cy="859.7" r="7.9"/><circle cx="375.3" cy="862.7" r="7.9"/><circle cx="399" cy="865.2" r="7.9"/><circle cx="422.7" cy="862.2" r="7.9"/><circle cx="446.5" cy="867.2" r="7.9"/><circle cx="470.2" cy="865.2" r="7.9"/><circle cx="493.9" cy="862.2" r="7.9"/><circle cx="517.6" cy="863.2" r="7.9"/><circle cx="541.4" cy="864.2" r="7.9"/><circle cx="565.1" cy="863.2" r="7.9"/><circle cx="588.8" cy="864.7" r="7.9"/><circle cx="612.6" cy="862.3" r="7.9"/><circle cx="636.3" cy="865.1" r="7.9"/><circle cx="660" cy="866.6" r="7.9"/><circle cx="683.8" cy="863.7" r="7.9"/><circle cx="707.5" cy="860.8" r="7.9"/><circle cx="731.2" cy="859.3" r="7.9"/><circle cx="754.9" cy="858" r="7.9"/><circle cx="778.7" cy="857.3" r="7.9"/><circle cx="802.4" cy="855.7" r="7.9"/><circle cx="826.1" cy="847.3" r="7.9"/><circle cx="849.9" cy="820.5" r="7.9"/><circle cx="873.6" cy="790.9" r="7.9"/><circle cx="897.3" cy="686.3" r="7.9"/><circle cx="921.1" cy="451" r="7.9"/><circle cx="944.8" cy="373.6" r="7.9"/><circle cx="968.5" cy="358.2" r="7.9"/><circle cx="992.2" cy="304.1" r="7.9"/><circle cx="1016" cy="289.9" r="7.9"/><circle cx="1039.7" cy="310.1" r="7.9"/><circle cx="1063.4" cy="255.9" r="7.9"/><circle cx="1087.2" cy="254.3" r="7.9"/><circle cx="1110.9" cy="288.7" r="7.9"/><circle cx="1134.6" cy="271.3" r="7.9"/><circle cx="1158.4" cy="281" r="7.9"/><circle cx="1182.1" cy="308.5" r="7.9"/><circle cx="1205.8" cy="299.6" r="7.9"/><circle cx="1229.5" cy="323.8" r="7.9"/><circle cx="1253.3" cy="371.9" r="7.9"/><circle cx="1277" cy="399.1" r="7.9"/><circle cx="1300.7" cy="487.4" r="7.9"/><circle cx="1324.5" cy="677.1" r="7.9"/><circle cx="1348.2" cy="802.5" r="7.9"/><circle cx="1371.9" cy="837.4" r="7.9"/><circle cx="1395.7" cy="855.6" r="7.9"/><circle cx="1419.4" cy="857.1" r="7.9"/><circle cx="1443.1" cy="861.5" r="7.9"/><circle cx="1466.8" cy="863.6" r="7.9"/><circle cx="1490.6" cy="863.6" r="7.9"/><circle cx="1514.3" cy="862.6" r="7.9"/><circle cx="1538" cy="865.7" r="7.9"/><circle cx="1561.8" cy="862.6" r="7.9"/><circle cx="1585.5" cy="864.7" r="7.9"/><circle cx="1609.2" cy="872.1" r="7.9"/><circle cx="1633" cy="870" r="7.9"/><circle cx="1656.7" cy="867.9" r="7.9"/><circle cx="1680.4" cy="876.3" r="7.9"/><circle cx="1704.2" cy="870" r="7.9"/><circle cx="1727.9" cy="865.7" r="7.9"/><circle cx="1751.6" cy="868.9" r="7.9"/><circle cx="1775.3" cy="871" r="7.9"/><circle cx="1799.1" cy="863.9" r="7.9"/><circle cx="1822.8" cy="867.5" r="7.9"/><circle cx="1846.5" cy="861.8" r="7.9"/><circle cx="1870.3" cy="866.7" r="7.9"/><circle cx="1894" cy="865" r="7.9"/><circle cx="1917.7" cy="864.2" r="7.9"/><circle cx="1941.5" cy="861" r="7.9"/></g>
<polyline points="240.1,870.3 265.1,871.8 290,880.3 315,872.3 339.9,871.8 364.8,875.8 389.8,874 414.7,872.8 439.7,874.3 464.6,873.8 489.6,875.3 514.5,873.8 539.5,869.3 564.4,867.3 589.4,872.3 614.3,864.8 639.3,864.8 664.2,872.4 689.2,863.8 714.1,862.3 739.1,863.3 764,854.3 789,860 813.9,849 838.9,819.4 863.8,770.5 888.8,663.5 913.7,454.7 938.7,343.7 963.6,329.9 988.6,265.6 1013.5,247.9 1038.5,264.8 1063.4,234.9 1088.4,229.3 1113.3,258 1138.3,237.8 1163.2,251.9 1188.2,287.4 1213.1,280.2 1238.1,310.9 1263,371.5 1288,399.1 1312.9,507 1337.9,677.1 1362.8,800.4 1387.8,846.7 1412.7,873.2 1437.7,871 1462.6,873.6 1487.6,881 1512.5,876.3 1537.5,876.8 1562.4,884.2 1587.3,875.7 1612.3,878.4 1637.2,885.7 1662.2,878.9 1687.1,878.4 1712.1,875.7 1737,875.2 1762,868.9 1786.9,878.4 1811.9,868.9 1836.8,870.1 1861.8,877.3 1886.7,869.1 1911.7,868.6 1936.6,871.9 1961.6,874.5 1986.5,867.1" stroke="#d9c200" stroke-width="2.8" fill="none"/>
<g fill="#d9c200"><path d="M240.1 858.5l9.5 19h-19z"/><path d="M265.1 860l9.5 19h-19z"/><path d="M290 868.5l9.5 19h-19z"/><path d="M315 860.5l9.5 19h-19z"/><path d="M339.9 860l9.5 19h-19z"/><path d="M364.8 864l9.5 19h-19z"/><path d="M389.8 862.3l9.5 19h-19z"/><path d="M414.7 861.1l9.5 19h-19z"/><path d="M439.7 862.6l9.5 19h-19z"/><path d="M464.6 862.1l9.5 19h-19z"/><path d="M489.6 863.6l9.5 19h-19z"/><path d="M514.5 862.1l9.5 19h-19z"/><path d="M539.5 857.5l9.5 19h-19z"/><path d="M564.4 855.5l9.5 19h-19z"/><path d="M589.4 860.6l9.5 19h-19z"/><path d="M614.3 853.1l9.5 19h-19z"/><path d="M639.3 853.1l9.5 19h-19z"/><path d="M664.2 860.6l9.5 19h-19z"/><path d="M689.2 852.1l9.5 19h-19z"/><path d="M714.1 850.5l9.5 19h-19z"/><path d="M739.1 851.6l9.5 19h-19z"/><path d="M764 842.5l9.5 19h-19z"/><path d="M789 848.2l9.5 19h-19z"/><path d="M813.9 837.2l9.5 19h-19z"/><path d="M838.9 807.6l9.5 19h-19z"/><path d="M863.8 758.7l9.5 19h-19z"/><path d="M888.8 651.8l9.5 19h-19z"/><path d="M913.7 443l9.5 19h-19z"/><path d="M938.7 331.9l9.5 19h-19z"/><path d="M963.6 318.1l9.5 19h-19z"/><path d="M988.6 253.9l9.5 19h-19z"/><path d="M1013.5 236.1l9.5 19h-19z"/><path d="M1038.5 253.1l9.5 19h-19z"/><path d="M1063.4 223.2l9.5 19h-19z"/><path d="M1088.4 217.5l9.5 19h-19z"/><path d="M1113.3 246.2l9.5 19h-19z"/><path d="M1138.3 226l9.5 19h-19z"/><path d="M1163.2 240.1l9.5 19h-19z"/><path d="M1188.2 275.7l9.5 19h-19z"/><path d="M1213.1 268.4l9.5 19h-19z"/><path d="M1238.1 299.1l9.5 19h-19z"/><path d="M1263 359.7l9.5 19h-19z"/><path d="M1288 387.3l9.5 19h-19z"/><path d="M1312.9 495.2l9.5 19h-19z"/><path d="M1337.9 665.3l9.5 19h-19z"/><path d="M1362.8 788.6l9.5 19h-19z"/><path d="M1387.8 835l9.5 19h-19z"/><path d="M1412.7 861.5l9.5 19h-19z"/><path d="M1437.7 859.2l9.5 19h-19z"/><path d="M1462.6 861.9l9.5 19h-19z"/><path d="M1487.6 869.2l9.5 19h-19z"/><path d="M1512.5 864.5l9.5 19h-19z"/><path d="M1537.5 865l9.5 19h-19z"/><path d="M1562.4 872.4l9.5 19h-19z"/><path d="M1587.3 864l9.5 19h-19z"/><path d="M1612.3 866.6l9.5 19h-19z"/><path d="M1637.2 874l9.5 19h-19z"/><path d="M1662.2 867.1l9.5 19h-19z"/><path d="M1687.1 866.6l9.5 19h-19z"/><path d="M1712.1 864l9.5 19h-19z"/><path d="M1737 863.5l9.5 19h-19z"/><path d="M1762 857.1l9.5 19h-19z"/><path d="M1786.9 866.6l9.5 19h-19z"/><path d="M1811.9 857.1l9.5 19h-19z"/><path d="M1836.8 858.3l9.5 19h-19z"/><path d="M1861.8 865.5l9.5 19h-19z"/><path d="M1886.7 857.4l9.5 19h-19z"/><path d="M1911.7 856.8l9.5 19h-19z"/><path d="M1936.6 860.1l9.5 19h-19z"/><path d="M1961.6 862.8l9.5 19h-19z"/><path d="M1986.5 855.4l9.5 19h-19z"/></g>
<polyline points="195.5,889.8 221.8,887.8 248.1,887.3 274.4,887.8 300.7,895.4 327,893.4 353.3,895.9 379.6,888.6 405.9,892.9 432.2,889.9 458.5,884.4 484.8,893.9 511.1,890.9 537.4,883.9 563.7,887.9 590,889.9 616.3,896 642.6,888.9 668.9,894.4 695.2,893.4 721.5,879.9 747.8,869.8 774.1,852.6 800.4,852.4 826.7,809.1 853,735.2 879.3,653.3 905.6,492.2 931.9,367.9 958.2,344.6 984.5,255.9 1010.8,231.7 1037.1,239 1063.4,204.2 1089.7,200.2 1116,231.7 1142.3,201 1168.6,222.8 1194.9,251.1 1221.2,254.3 1247.5,305.2 1273.8,376.9 1300.1,419.6 1326.4,527.5 1352.7,660.6 1379,814.2 1405.3,858.4 1431.6,882.1 1457.9,891 1484.2,891.5 1510.5,899.9 1536.8,900.5 1563.1,901 1589.4,909.9 1615.7,901 1642,897.8 1668.3,909.4 1694.6,897.3 1720.9,899.4 1747.2,907.3 1773.5,901.5 1799.8,901.9 1826.1,903.6 1852.4,896.4 1878.7,895.2 1905,899.4 1931.3,892.2 1957.6,888 1983.9,899.4 2010.2,889.2 2036.5,890.4" stroke="#ff0000" stroke-width="3" fill="none"/>
<g fill="#ff0000"><path d="M195.5 880.2l9.6 9.6l-9.6 9.6l-9.6 -9.6z"/><path d="M221.8 878.2l9.6 9.6l-9.6 9.6l-9.6 -9.6z"/><path d="M248.1 877.7l9.6 9.6l-9.6 9.6l-9.6 -9.6z"/><path d="M274.4 878.2l9.6 9.6l-9.6 9.6l-9.6 -9.6z"/><path d="M300.7 885.8l9.6 9.6l-9.6 9.6l-9.6 -9.6z"/><path d="M327 883.8l9.6 9.6l-9.6 9.6l-9.6 -9.6z"/><path d="M353.3 886.3l9.6 9.6l-9.6 9.6l-9.6 -9.6z"/><path d="M379.6 879l9.6 9.6l-9.6 9.6l-9.6 -9.6z"/><path d="M405.9 883.3l9.6 9.6l-9.6 9.6l-9.6 -9.6z"/><path d="M432.2 880.3l9.6 9.6l-9.6 9.6l-9.6 -9.6z"/><path d="M458.5 874.8l9.6 9.6l-9.6 9.6l-9.6 -9.6z"/><path d="M484.8 884.3l9.6 9.6l-9.6 9.6l-9.6 -9.6z"/><path d="M511.1 881.3l9.6 9.6l-9.6 9.6l-9.6 -9.6z"/><path d="M537.4 874.3l9.6 9.6l-9.6 9.6l-9.6 -9.6z"/><path d="M563.7 878.3l9.6 9.6l-9.6 9.6l-9.6 -9.6z"/><path d="M590 880.3l9.6 9.6l-9.6 9.6l-9.6 -9.6z"/><path d="M616.3 886.4l9.6 9.6l-9.6 9.6l-9.6 -9.6z"/><path d="M642.6 879.3l9.6 9.6l-9.6 9.6l-9.6 -9.6z"/><path d="M668.9 884.8l9.6 9.6l-9.6 9.6l-9.6 -9.6z"/><path d="M695.2 883.8l9.6 9.6l-9.6 9.6l-9.6 -9.6z"/><path d="M721.5 870.3l9.6 9.6l-9.6 9.6l-9.6 -9.6z"/><path d="M747.8 860.2l9.6 9.6l-9.6 9.6l-9.6 -9.6z"/><path d="M774.1 843l9.6 9.6l-9.6 9.6l-9.6 -9.6z"/><path d="M800.4 842.8l9.6 9.6l-9.6 9.6l-9.6 -9.6z"/><path d="M826.7 799.5l9.6 9.6l-9.6 9.6l-9.6 -9.6z"/><path d="M853 725.6l9.6 9.6l-9.6 9.6l-9.6 -9.6z"/><path d="M879.3 643.7l9.6 9.6l-9.6 9.6l-9.6 -9.6z"/><path d="M905.6 482.6l9.6 9.6l-9.6 9.6l-9.6 -9.6z"/><path d="M931.9 358.3l9.6 9.6l-9.6 9.6l-9.6 -9.6z"/><path d="M958.2 335l9.6 9.6l-9.6 9.6l-9.6 -9.6z"/><path d="M984.5 246.3l9.6 9.6l-9.6 9.6l-9.6 -9.6z"/><path d="M1010.8 222.1l9.6 9.6l-9.6 9.6l-9.6 -9.6z"/><path d="M1037.1 229.4l9.6 9.6l-9.6 9.6l-9.6 -9.6z"/><path d="M1063.4 194.6l9.6 9.6l-9.6 9.6l-9.6 -9.6z"/><path d="M1089.7 190.6l9.6 9.6l-9.6 9.6l-9.6 -9.6z"/><path d="M1116 222.1l9.6 9.6l-9.6 9.6l-9.6 -9.6z"/><path d="M1142.3 191.4l9.6 9.6l-9.6 9.6l-9.6 -9.6z"/><path d="M1168.6 213.2l9.6 9.6l-9.6 9.6l-9.6 -9.6z"/><path d="M1194.9 241.5l9.6 9.6l-9.6 9.6l-9.6 -9.6z"/><path d="M1221.2 244.7l9.6 9.6l-9.6 9.6l-9.6 -9.6z"/><path d="M1247.5 295.6l9.6 9.6l-9.6 9.6l-9.6 -9.6z"/><path d="M1273.8 367.3l9.6 9.6l-9.6 9.6l-9.6 -9.6z"/><path d="M1300.1 410l9.6 9.6l-9.6 9.6l-9.6 -9.6z"/><path d="M1326.4 517.9l9.6 9.6l-9.6 9.6l-9.6 -9.6z"/><path d="M1352.7 651l9.6 9.6l-9.6 9.6l-9.6 -9.6z"/><path d="M1379 804.6l9.6 9.6l-9.6 9.6l-9.6 -9.6z"/><path d="M1405.3 848.8l9.6 9.6l-9.6 9.6l-9.6 -9.6z"/><path d="M1431.6 872.5l9.6 9.6l-9.6 9.6l-9.6 -9.6z"/><path d="M1457.9 881.4l9.6 9.6l-9.6 9.6l-9.6 -9.6z"/><path d="M1484.2 881.9l9.6 9.6l-9.6 9.6l-9.6 -9.6z"/><path d="M1510.5 890.3l9.6 9.6l-9.6 9.6l-9.6 -9.6z"/><path d="M1536.8 890.9l9.6 9.6l-9.6 9.6l-9.6 -9.6z"/><path d="M1563.1 891.4l9.6 9.6l-9.6 9.6l-9.6 -9.6z"/><path d="M1589.4 900.3l9.6 9.6l-9.6 9.6l-9.6 -9.6z"/><path d="M1615.7 891.4l9.6 9.6l-9.6 9.6l-9.6 -9.6z"/><path d="M1642 888.2l9.6 9.6l-9.6 9.6l-9.6 -9.6z"/><path d="M1668.3 899.8l9.6 9.6l-9.6 9.6l-9.6 -9.6z"/><path d="M1694.6 887.7l9.6 9.6l-9.6 9.6l-9.6 -9.6z"/><path d="M1720.9 889.8l9.6 9.6l-9.6 9.6l-9.6 -9.6z"/><path d="M1747.2 897.7l9.6 9.6l-9.6 9.6l-9.6 -9.6z"/><path d="M1773.5 891.9l9.6 9.6l-9.6 9.6l-9.6 -9.6z"/><path d="M1799.8 892.3l9.6 9.6l-9.6 9.6l-9.6 -9.6z"/><path d="M1826.1 894l9.6 9.6l-9.6 9.6l-9.6 -9.6z"/><path d="M1852.4 886.8l9.6 9.6l-9.6 9.6l-9.6 -9.6z"/><path d="M1878.7 885.6l9.6 9.6l-9.6 9.6l-9.6 -9.6z"/><path d="M1905 889.8l9.6 9.6l-9.6 9.6l-9.6 -9.6z"/><path d="M1931.3 882.6l9.6 9.6l-9.6 9.6l-9.6 -9.6z"/><path d="M1957.6 878.4l9.6 9.6l-9.6 9.6l-9.6 -9.6z"/><path d="M1983.9 889.8l9.6 9.6l-9.6 9.6l-9.6 -9.6z"/><path d="M2010.2 879.6l9.6 9.6l-9.6 9.6l-9.6 -9.6z"/><path d="M2036.5 880.8l9.6 9.6l-9.6 9.6l-9.6 -9.6z"/></g>
<g stroke="#000" stroke-width="4" fill="none"><line x1="195.5" y1="103.5" x2="195.5" y2="1026.5"/><line x1="178" y1="1025" x2="2038.5" y2="1025"/><line x1="195.5" y1="105" x2="213.5" y2="105"/><line x1="195.5" y1="181.6" x2="208" y2="181.6"/><line x1="195.5" y1="258.2" x2="213.5" y2="258.2"/><line x1="195.5" y1="334.9" x2="208" y2="334.9"/><line x1="195.5" y1="411.5" x2="213.5" y2="411.5"/><line x1="195.5" y1="488.1" x2="208" y2="488.1"/><line x1="195.5" y1="564.8" x2="213.5" y2="564.8"/><line x1="195.5" y1="641.4" x2="208" y2="641.4"/><line x1="195.5" y1="718" x2="213.5" y2="718"/><line x1="195.5" y1="794.6" x2="208" y2="794.6"/><line x1="195.5" y1="871.2" x2="213.5" y2="871.2"/><line x1="195.5" y1="947.9" x2="208" y2="947.9"/><line x1="310.6" y1="1024.5" x2="310.6" y2="1013.5" stroke-width="3"/><line x1="425.6" y1="1024.5" x2="425.6" y2="1008.5" stroke-width="3"/><line x1="540.7" y1="1024.5" x2="540.7" y2="1013.5" stroke-width="3"/><line x1="655.8" y1="1024.5" x2="655.8" y2="1008.5" stroke-width="3"/><line x1="770.8" y1="1024.5" x2="770.8" y2="1013.5" stroke-width="3"/><line x1="885.9" y1="1024.5" x2="885.9" y2="1008.5" stroke-width="3"/><line x1="1000.9" y1="1024.5" x2="1000.9" y2="1013.5" stroke-width="3"/><line x1="1116" y1="1024.5" x2="1116" y2="1008.5" stroke-width="3"/><line x1="1231.1" y1="1024.5" x2="1231.1" y2="1013.5" stroke-width="3"/><line x1="1346.1" y1="1024.5" x2="1346.1" y2="1008.5" stroke-width="3"/><line x1="1461.2" y1="1024.5" x2="1461.2" y2="1013.5" stroke-width="3"/><line x1="1576.2" y1="1024.5" x2="1576.2" y2="1008.5" stroke-width="3"/><line x1="1691.3" y1="1024.5" x2="1691.3" y2="1013.5" stroke-width="3"/><line x1="1806.4" y1="1024.5" x2="1806.4" y2="1008.5" stroke-width="3"/><line x1="1921.4" y1="1024.5" x2="1921.4" y2="1013.5" stroke-width="3"/><line x1="2036.5" y1="1024.5" x2="2036.5" y2="1008.5" stroke-width="3"/></g>
<g stroke="#000" stroke-width="2.3" fill="none"><line x1="195.5" y1="1024.5" x2="408.4" y2="926"/><line x1="267.3" y1="985.2" x2="280.3" y2="985.2"/><line x1="337.1" y1="953" x2="350.1" y2="953"/><line x1="395.4" y1="926" x2="408.4" y2="926"/></g>
<text x="105.5" y="123.2" class="tk" textLength="53" lengthAdjust="spacingAndGlyphs">7.5</text><text x="105.5" y="275.2" class="tk" textLength="53" lengthAdjust="spacingAndGlyphs">6.5</text><text x="105.5" y="427.3" class="tk" textLength="53" lengthAdjust="spacingAndGlyphs">5.5</text><text x="105.5" y="579.4" class="tk" textLength="53" lengthAdjust="spacingAndGlyphs">4.5</text><text x="105.5" y="731.4" class="tk" textLength="53" lengthAdjust="spacingAndGlyphs">3.5</text><text x="105.5" y="883.5" class="tk" textLength="53" lengthAdjust="spacingAndGlyphs">2.5</text><text x="112.5" y="1035.5" class="tk" textLength="46" lengthAdjust="spacingAndGlyphs">1.5</text><text x="173.4" y="1090.5" class="tk" textLength="45" lengthAdjust="spacingAndGlyphs">25</text><text x="437" y="1090.5" class="tk" textLength="45" lengthAdjust="spacingAndGlyphs">35</text><text x="700.6" y="1090.5" class="tk" textLength="45" lengthAdjust="spacingAndGlyphs">45</text><text x="964.2" y="1090.5" class="tk" textLength="45" lengthAdjust="spacingAndGlyphs">55</text><text x="1227.8" y="1090.5" class="tk" textLength="45" lengthAdjust="spacingAndGlyphs">65</text><text x="1491.4" y="1090.5" class="tk" textLength="45" lengthAdjust="spacingAndGlyphs">75</text><text x="1755" y="1090.5" class="tk" textLength="45" lengthAdjust="spacingAndGlyphs">85</text><text x="2018.6" y="1090.5" class="tk" textLength="45" lengthAdjust="spacingAndGlyphs">95</text><text x="922.5" y="1164" class="ttl" textLength="401" lengthAdjust="spacingAndGlyphs">Tunneling mileage(m)</text><text transform="translate(48.8 1063.2) rotate(-90)" class="ttly" textLength="994" lengthAdjust="spacingAndGlyphs">Maximum horizontal displacement of arch waist(mm)</text><text x="1040.5" y="1308" text-anchor="middle" class="cap"><tspan font-weight="normal">(</tspan>c<tspan font-weight="normal">)</tspan></text>
<line x1="1604" y1="405" x2="1791" y2="405" stroke="#ff0000" stroke-width="2.2"/><g fill="#ff0000"><path d="M1698.6 391l14 14l-14 14l-14 -14z"/></g><text x="1808" y="414.5" fill="#ff0000" class="lg">45°</text><line x1="1604" y1="463" x2="1791" y2="463" stroke="#d9c200" stroke-width="2.2"/><g fill="#d9c200"><path d="M1698.6 449.4l11 22h-22z"/></g><text x="1808" y="472.5" fill="#d9c200" class="lg">60°</text><line x1="1604" y1="521" x2="1791" y2="521" stroke="#c5d39a" stroke-width="2.2"/><g fill="#c5d39a"><circle cx="1698.6" cy="521" r="9.3"/></g><text x="1808" y="530.5" fill="#c5d39a" class="lg">75°</text><line x1="1604" y1="579" x2="1791" y2="579" stroke="#00cc00" stroke-width="2.2"/><g fill="#00cc00"><rect x="1688.6" y="569" width="20" height="20"/></g><text x="1808" y="588.5" fill="#00cc00" class="lg">90°</text><line x1="1604" y1="637" x2="1791" y2="637" stroke="#a3d3d0" stroke-width="2.2"/><g fill="#a3d3d0"><circle cx="1698.6" cy="637" r="8.6"/></g><text x="1808" y="646.5" fill="#a3d3d0" class="lg">105°</text><line x1="1604" y1="695" x2="1791" y2="695" stroke="#00c8dc" stroke-width="2.2"/><g fill="#00c8dc"><path d="M1698.6 681.4l11 22h-22z"/></g><text x="1808" y="704.5" fill="#00c8dc" class="lg">120°</text><line x1="1604" y1="753" x2="1791" y2="753" stroke="#0000d6" stroke-width="2.2"/><g fill="#0000d6"><path d="M1698.6 739.5l13.5 13.5l-13.5 13.5l-13.5 -13.5z"/></g><text x="1808" y="762.5" fill="#0000d6" class="lg">135°</text>
</svg></body></html>
